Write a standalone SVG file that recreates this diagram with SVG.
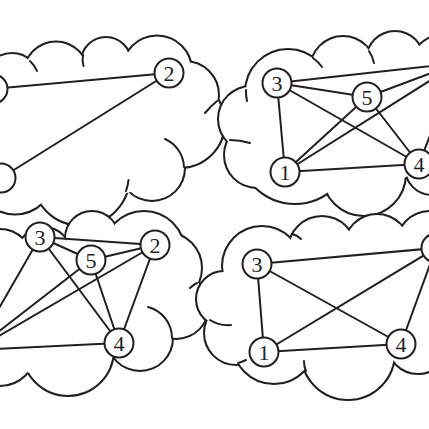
<svg xmlns="http://www.w3.org/2000/svg" xmlns:xlink="http://www.w3.org/1999/xlink" width="429" height="429" viewBox="0 0 429 429">
<style>
.cs{fill:#fff;stroke:#231f20;stroke-width:4}
.cf{fill:#fff;stroke:none}
.tail{fill:none;stroke:#231f20;stroke-width:2;stroke-linecap:round}
.edge{stroke:#231f20;stroke-width:2;stroke-linecap:round}
.node circle{fill:#fff;stroke:#231f20;stroke-width:2}
.node text{font-family:"Liberation Serif","Times New Roman",serif;font-size:22px;fill:#231f20;text-anchor:middle}
</style>
<defs>
<g id="tlc">
<circle cx="12" cy="81" r="27"/><circle cx="56" cy="74" r="31.5"/><circle cx="106" cy="62" r="24"/><circle cx="157" cy="70.5" r="34"/><circle cx="185" cy="95" r="33"/><circle cx="180" cy="123" r="44"/><circle cx="152" cy="168" r="32"/><circle cx="81" cy="177" r="47.7"/><circle cx="15" cy="175" r="38.5"/><circle cx="-20" cy="130" r="55"/>
</g>
<g id="trc">
<circle cx="288" cy="92" r="42"/><circle cx="343" cy="69" r="32"/><circle cx="395" cy="60" r="28"/><circle cx="445" cy="70" r="35"/><circle cx="470" cy="120" r="55"/><circle cx="251" cy="119" r="32"/><circle cx="257" cy="155" r="32"/><circle cx="295" cy="147" r="56"/><circle cx="364" cy="174" r="41"/><circle cx="432" cy="168" r="26"/>
</g>
<g id="blc">
<circle cx="0" cy="262" r="32"/><circle cx="44" cy="254" r="26"/><circle cx="92" cy="238" r="26"/><circle cx="144" cy="252" r="40"/><circle cx="166" cy="268" r="35"/><circle cx="176" cy="306" r="32"/><circle cx="140" cy="338" r="32"/><circle cx="68" cy="350" r="45"/><circle cx="0" cy="350" r="35"/><circle cx="-30" cy="300" r="50"/>
</g>
<g id="brc">
<circle cx="262" cy="266" r="39"/><circle cx="322" cy="250" r="33"/><circle cx="377" cy="247" r="32"/><circle cx="430" cy="245" r="33"/><circle cx="460" cy="300" r="50"/><circle cx="224" cy="299" r="27"/><circle cx="236" cy="333" r="31"/><circle cx="274" cy="342" r="41"/><circle cx="348" cy="353" r="46"/><circle cx="418" cy="343" r="30"/>
</g>
</defs>
<rect width="429" height="429" fill="#fff"/>
<g id="cloud-tl">
<use xlink:href="#tlc" class="cs"/>
<use xlink:href="#tlc" class="cf"/>
<polygon class="cf" points="20,75 56,60 106,60 157,60 190,80 205,110 200,150 155,185 120,195 80,205 40,190 0,195 -20,140 -10,80"/>
<path class="tail" d="M184,167 A32,32 0 0 0 165,139"/>
<path class="tail" d="M126,191 A47.7,47.7 0 0 0 128.5,180"/>
<path class="tail" d="M217,101 Q211,106 205,113"/>
<path class="tail" d="M30,61 A27,27 0 0 1 37,71"/>
<path class="tail" d="M83,55 A24,24 0 0 0 83.5,66"/>
</g>
<g id="cloud-tr">
<use xlink:href="#trc" class="cs"/>
<use xlink:href="#trc" class="cf"/>
<polygon class="cf" points="250,100 269,80 288,62 302,64 316,66 343,52 370,62 395,45 420,58 440,50 470,100 440,160 400,180 364,200 330,185 300,195 258,175 235,150 230,120"/>
<path class="tail" d="M313,58 A42,42 0 0 1 322,67"/>
<path class="tail" d="M369,51 A32,32 0 0 1 374,63"/>
<path class="tail" d="M246,90 A42,42 0 0 0 247,101"/>
<path class="tail" d="M230,140 Q240,140 250,143"/>
</g>
<g id="cloud-bl">
<use xlink:href="#blc" class="cs"/>
<use xlink:href="#blc" class="cf"/>
<polygon class="cf" points="0,245 40,245 66,250 90,232 140,225 170,245 185,270 190,300 165,320 140,355 105,350 70,385 20,370 0,360 -20,300"/>
<path class="tail" d="M172,338 A32,32 0 0 0 148,307"/>
<path class="tail" d="M197,283 Q193,285 190,288"/>
</g>
<g id="cloud-br">
<use xlink:href="#brc" class="cs"/>
<use xlink:href="#brc" class="cf"/>
<polygon class="cf" points="230,270 262,235 277,240 292,245 322,225 350,242 377,222 402,238 430,220 470,270 440,340 418,360 390,355 348,390 305,360 274,375 240,355 215,335 205,300 222,282"/>
<path class="tail" d="M292,234 Q297,235 301,239"/>
<path class="tail" d="M210,320 Q219,326 231,325"/>
<path class="tail" d="M238,363 Q242,362 246,360"/>
<path class="tail" d="M306,371 Q304,367 304,361"/>
</g>
<g id="connectors">
<line class="edge" x1="169" y1="73" x2="-7" y2="89"/>
<line class="edge" x1="169" y1="73" x2="1" y2="178"/>
<line class="edge" x1="277" y1="83" x2="367" y2="97"/>
<line class="edge" x1="277" y1="83" x2="285" y2="172"/>
<line class="edge" x1="277" y1="83" x2="419" y2="164"/>
<line class="edge" x1="277" y1="83" x2="458" y2="63"/>
<line class="edge" x1="367" y1="97" x2="285" y2="172"/>
<line class="edge" x1="367" y1="97" x2="419" y2="164"/>
<line class="edge" x1="367" y1="97" x2="458" y2="63"/>
<line class="edge" x1="285" y1="172" x2="419" y2="164"/>
<line class="edge" x1="285" y1="172" x2="458" y2="63"/>
<line class="edge" x1="419" y1="164" x2="458" y2="63"/>
<line class="edge" x1="40" y1="237" x2="91" y2="260"/>
<line class="edge" x1="40" y1="237" x2="155" y2="245"/>
<line class="edge" x1="40" y1="237" x2="119" y2="343"/>
<line class="edge" x1="40" y1="237" x2="-25" y2="350"/>
<line class="edge" x1="91" y1="260" x2="155" y2="245"/>
<line class="edge" x1="91" y1="260" x2="119" y2="343"/>
<line class="edge" x1="91" y1="260" x2="-25" y2="350"/>
<line class="edge" x1="155" y1="245" x2="119" y2="343"/>
<line class="edge" x1="155" y1="245" x2="-25" y2="350"/>
<line class="edge" x1="119" y1="343" x2="-25" y2="350"/>
<line class="edge" x1="257" y1="264" x2="264" y2="352"/>
<line class="edge" x1="257" y1="264" x2="401" y2="344"/>
<line class="edge" x1="257" y1="264" x2="436" y2="248"/>
<line class="edge" x1="264" y1="352" x2="401" y2="344"/>
<line class="edge" x1="264" y1="352" x2="436" y2="248"/>
<line class="edge" x1="401" y1="344" x2="436" y2="248"/>
</g>
<g id="tl-n2" class="node"><circle cx="169" cy="73" r="14.5"/><text x="169" y="81">2</text></g>
<g id="tl-na" class="node"><circle cx="-7" cy="89" r="14.5"/></g>
<g id="tl-nb" class="node"><circle cx="1" cy="178" r="14.5"/></g>
<g id="tr-n3" class="node"><circle cx="277" cy="83" r="14.5"/><text x="277" y="91">3</text></g>
<g id="tr-n5" class="node"><circle cx="367" cy="97" r="14.5"/><text x="367" y="105">5</text></g>
<g id="tr-n1" class="node"><circle cx="285" cy="172" r="14.5"/><text x="285" y="180">1</text></g>
<g id="tr-n4" class="node"><circle cx="419" cy="164" r="14.5"/><text x="419" y="172">4</text></g>
<g id="tr-n2" class="node"><circle cx="458" cy="63" r="14.5"/></g>
<g id="bl-n3" class="node"><circle cx="40" cy="237" r="14.5"/><text x="40" y="245">3</text></g>
<g id="bl-n5" class="node"><circle cx="91" cy="260" r="14.5"/><text x="91" y="268">5</text></g>
<g id="bl-n2" class="node"><circle cx="155" cy="245" r="14.5"/><text x="155" y="253">2</text></g>
<g id="bl-n4" class="node"><circle cx="119" cy="343" r="14.5"/><text x="119" y="351">4</text></g>
<g id="bl-n1" class="node"><circle cx="-25" cy="350" r="14.5"/></g>
<g id="br-n3" class="node"><circle cx="257" cy="264" r="14.5"/><text x="257" y="272">3</text></g>
<g id="br-n1" class="node"><circle cx="264" cy="352" r="14.5"/><text x="264" y="360">1</text></g>
<g id="br-n4" class="node"><circle cx="401" cy="344" r="14.5"/><text x="401" y="352">4</text></g>
<g id="br-n2" class="node"><circle cx="436" cy="248" r="14.5"/></g>
</svg>
